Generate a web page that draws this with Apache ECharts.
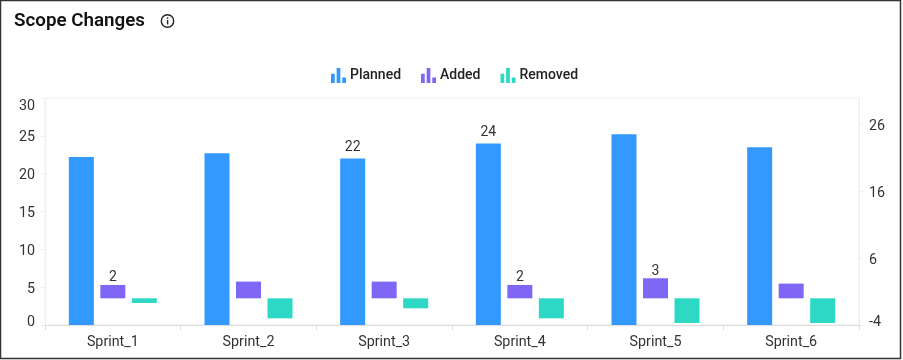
<!DOCTYPE html>
<html><head><meta charset="utf-8">
<style>html,body{margin:0;padding:0;background:#fff}#c{width:903px;height:360px}</style>
<script src="https://cdn.jsdelivr.net/npm/echarts@6/dist/echarts.min.js"></script>
</head><body><div id="c"></div>
<script>
const categories = ['Sprint_1','Sprint_2','Sprint_3','Sprint_4','Sprint_5','Sprint_6'];
const planned = [22.2,22.7,22,24,25.2,23.5];
const added = [2,2.5,2.5,2,3,2.2];
const removed = [-0.7,-3,-1.5,-3,-3.7,-3.7];
const plannedLabelled = [2,3];
const addedLabelled = [0,3,4];
const leftTicks = [0,5,10,15,20,25,30];
const rightTicks = [-4,6,16,26];
const barIcon = 'path://M0,6H4V16H0ZM6,0H10V16H6ZM12,10H16V16H12Z';
const mk = (vals, shown) => vals.map((v,i)=>({value:v,label:{show:shown.includes(i)}}));
const labelStyle = d => ({position:'top',distance:d,color:'#333',fontSize:14,fontFamily:'Roboto',formatter:p=>Math.round(p.value)});
const base = {color:'#333',fontSize:14.3,fontFamily:'Roboto'};
const rich = {
  mid:Object.assign({padding:[4,0,0,0]},base),
  hi:Object.assign({padding:[16,0,0,0]},base),
  lo:Object.assign({padding:[0,0,6,0]},base)
};
const tag = (v,lo,hi) => '{'+(v===lo?'lo':v===hi?'hi':'mid')+'|'+v+'}';
const chart = echarts.init(document.getElementById('c'),null,{renderer:'canvas'});
chart.setOption({
  animation:false,
  backgroundColor:'#fff',
  title:{text:'Scope Changes',left:14,top:12,padding:0,textStyle:{fontFamily:'Roboto',fontSize:18.8,fontWeight:600,color:'#111'}},
  legend:{top:63,left:326,itemWidth:15,itemHeight:15,itemGap:20,icon:barIcon,
    textStyle:{fontFamily:'Roboto',fontSize:14,fontWeight:500,color:'#222',padding:[0,0,0,-1]}},
  grid:{left:45,right:44,top:98,bottom:35,show:true,borderColor:'#eeeeee',borderWidth:1,backgroundColor:'transparent'},
  xAxis:{type:'category',data:categories,
    axisLine:{lineStyle:{color:'#dddddd',width:1}},
    axisTick:{show:true,length:5,alignWithLabel:false,lineStyle:{color:'#dddddd'}},
    axisLabel:Object.assign({margin:10},base),splitLine:{show:false}},
  yAxis:[
    {type:'value',min:0,max:30,
      axisLine:{show:true,lineStyle:{color:'#eeeeee'}},
      axisTick:{show:true,length:4,lineStyle:{color:'#eeeeee'},customValues:leftTicks},
      axisLabel:{margin:10,customValues:leftTicks,rich,formatter:v=>tag(v,0,30)},
      splitLine:{show:false}},
    {type:'value',min:-4,max:30,position:'right',
      axisLine:{show:true,onZero:false,lineStyle:{color:'#eeeeee'}},
      axisTick:{show:true,length:4,lineStyle:{color:'#eeeeee'},customValues:rightTicks},
      axisLabel:{margin:10,customValues:rightTicks,rich,formatter:v=>tag(v,-4,30)},
      splitLine:{show:false}}
  ],
  series:[
    {name:'Planned',type:'bar',yAxisIndex:0,barWidth:25,barGap:'26%',data:mk(planned,plannedLabelled),itemStyle:{color:'#3399ff'},label:labelStyle(4)},
    {name:'Added',type:'bar',yAxisIndex:1,barWidth:25,barGap:'26%',data:mk(added,addedLabelled),itemStyle:{color:'#7f66f5'},label:labelStyle(0)},
    {name:'Removed',type:'bar',yAxisIndex:1,barWidth:25,barGap:'26%',data:mk(removed,[]),itemStyle:{color:'#2dd9c5'},label:labelStyle(0)}
  ],
  graphic:[
    {type:'rect',silent:true,shape:{x:0.5,y:0.5,width:900,height:358},style:{fill:'none',stroke:'#333',lineWidth:1.5}},
    {type:'circle',silent:true,shape:{cx:167.5,cy:21,r:6.2},style:{fill:'none',stroke:'#222',lineWidth:1.4}},
    {type:'rect',silent:true,shape:{x:166.9,y:20,width:1.4,height:4.5},style:{fill:'#222'}},
    {type:'rect',silent:true,shape:{x:166.9,y:17.3,width:1.4,height:1.5},style:{fill:'#222'}}
  ]
});
</script></body></html>
